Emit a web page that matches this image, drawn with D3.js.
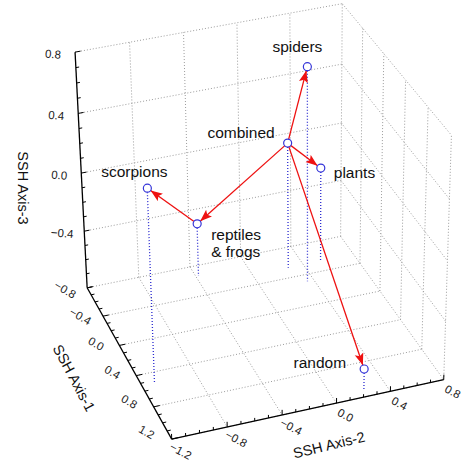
<!DOCTYPE html>
<html><head><meta charset="utf-8">
<script src="https://cdn.jsdelivr.net/npm/d3@7"></script>
<style>body{margin:0;background:#fff}svg{display:block}</style>
</head><body>
<svg id="chart" width="474" height="476"></svg>
<script>
// ---------------- DATA ----------------
const categories  = ["combined", "spiders", "plants", "scorpions", "reptiles & frogs", "random"];
const axis1Values = [-0.53, -0.31, -0.54, 0.54, -0.66, 1.13];
const axis2Values = [0.28, 0.35, 0.54, -1.11, -0.38, 0.23];
const axis3Values = [0.07, 0.66, -0.15, 0.50, -0.43, -0.65];
const arrowFrom = ["combined", "combined", "combined", "reptiles & frogs", "combined"];
const arrowTo   = ["spiders", "plants", "reptiles & frogs", "scorpions", "random"];
const axis1Ticks = [-0.8, -0.4, 0.0, 0.4, 0.8, 1.2];
const axis2Ticks = [-1.2, -0.8, -0.4, 0.0, 0.4, 0.8];
const axis3Ticks = [-0.8, -0.4, 0.0, 0.4, 0.8];
const axisTitles = ["SSH Axis-1", "SSH Axis-2", "SSH Axis-3"];

// ---------------- LAYOUT ----------------
// screen positions of box corners (normalized u,v,w) used to calibrate the perspective camera
const frameCalib = [
  [0,0,0, 86,288],[1,0,0, 172,439],[1,1,0, 441,380],[0,1,0, 344,236],
  [0,0,1, 76,52],[0,1,1, 339,4],[1,1,1, 454,135]
];
const labelLayout = {
  "combined": {dx:-13, dy:-5, anchor:"end"},
  "spiders": {dx:-10, dy:-15, anchor:"middle"},
  "plants": {dx:13, dy:10, anchor:"start"},
  "scorpions": {dx:-13, dy:-11, anchor:"middle"},
  "reptiles & frogs": {dx:14, dy:16, anchor:"start"},
  "random": {dx:-18, dy:-1, anchor:"end"}
};

function solve(A, b){
  const n=b.length, M=A.map((r,i)=>[...r,b[i]]);
  for(let c=0;c<n;c++){
    let p=c; for(let r=c+1;r<n;r++) if(Math.abs(M[r][c])>Math.abs(M[p][c])) p=r;
    [M[c],M[p]]=[M[p],M[c]];
    for(let r=0;r<n;r++){ if(r===c) continue; const f=M[r][c]/M[c][c]; for(let k=c;k<=n;k++) M[r][k]-=f*M[c][k]; }
  }
  return M.map((r,i)=>r[n]/r[i]);
}
function fitCamera(pts){
  const rows=[], rhs=[];
  pts.forEach(([X,Y,Z,x,y])=>{
    rows.push([X,Y,Z,1,0,0,0,0,-x*X,-x*Y,-x*Z]); rhs.push(x);
    rows.push([0,0,0,0,X,Y,Z,1,-y*X,-y*Y,-y*Z]); rhs.push(y);
  });
  const N=[], r=[];
  for(let i=0;i<11;i++){ N.push([]); r.push(0);
    for(let j=0;j<11;j++){ let s=0; rows.forEach(row=>s+=row[i]*row[j]); N[i].push(s); }
    rows.forEach((row,k)=>r[i]+=row[i]*rhs[k]);
  }
  return solve(N,r);
}
const P = fitCamera(frameCalib);
function proj(u,v,w){
  const d=P[8]*u+P[9]*v+P[10]*w+1;
  return [(P[0]*u+P[1]*v+P[2]*w+P[3])/d, (P[4]*u+P[5]*v+P[6]*w+P[7])/d];
}

const sU = d3.scaleLinear().domain([-0.8,1.2]).range([0,1]);
const sV = d3.scaleLinear().domain([-1.2,0.8]).range([0,1]);
const sW = d3.scaleLinear().domain([-0.8,0.8]).range([0,1]);
const pt = (a1,a2,a3)=>proj(sU(a1),sV(a2),sW(a3));

const svg = d3.select("#chart");
const font = "'Liberation Sans', Arial, sans-serif";
const gridColor = "#9c9c9c";

const gGrid = svg.append("g").attr("fill","none").attr("stroke",gridColor).attr("stroke-width",1).attr("stroke-dasharray","1,2");
function seg(g,a,b){ g.append("line").attr("x1",a[0]).attr("y1",a[1]).attr("x2",b[0]).attr("y2",b[1]); }

const a1Grid = axis1Ticks.slice(1), a2Grid = axis2Ticks.slice(1), a3Grid = axis3Ticks.slice(1);
// back wall (axis1 = min)
a2Grid.forEach(v=>seg(gGrid, pt(-0.8,v,-0.8), pt(-0.8,v,0.8)));
a3Grid.forEach(z=>seg(gGrid, pt(-0.8,-1.2,z), pt(-0.8,0.8,z)));
seg(gGrid, pt(-0.8,-1.2,-0.8), pt(-0.8,0.8,-0.8));
// floor
a1Grid.forEach(u=>seg(gGrid, pt(u,-1.2,-0.8), pt(u,0.8,-0.8)));
a2Grid.slice(0,-1).forEach(v=>seg(gGrid, pt(-0.8,v,-0.8), pt(1.2,v,-0.8)));
seg(gGrid, pt(-0.8,0.8,-0.8), pt(1.2,0.8,-0.8));
// right wall (axis2 = max)
a1Grid.forEach(u=>seg(gGrid, pt(u,0.8,-0.8), pt(u,0.8,0.8)));
a3Grid.forEach(z=>seg(gGrid, pt(-0.8,0.8,z), pt(1.2,0.8,z)));

// axes
const gAx = svg.append("g").attr("stroke","#000").attr("stroke-width",1.3).attr("fill","none");
seg(gAx, pt(-0.8,-1.2,-0.8), pt(-0.8,-1.2,0.8));
seg(gAx, pt(-0.8,-1.2,-0.8), pt(1.2,-1.2,-0.8));
seg(gAx, pt(1.2,-1.2,-0.8), pt(1.2,0.8,-0.8));
const gTk = svg.append("g").attr("stroke","#000").attr("stroke-width",1).attr("fill","none");
const minor = (lo,hi)=>d3.range(Math.round(lo*10), Math.round(hi*10)+1).map(d=>d/10);
const isMajor = t=>Math.abs(Math.round(t*10))%4===0;
minor(-0.8,0.8).forEach(z=>{ const len=isMajor(z)?0.02:0.012; seg(gTk, pt(-0.8,-1.2,z), pt(-0.8,-1.2+len*2,z)); });
minor(-0.8,1.2).forEach(u=>{ const len=isMajor(u)?0.022:0.013; seg(gTk, pt(u,-1.2,-0.8), pt(u,-1.2+len*2,-0.8)); });
minor(-1.2,0.8).forEach(v=>{ const len=isMajor(v)?0.022:0.013; seg(gTk, pt(1.2,v,-0.8), pt(1.2,v,-0.8+len*1.6)); });

// tick labels
const gTl = svg.append("g").attr("font-family",font).attr("font-size",11.5).attr("fill","#222").attr("text-anchor","middle").attr("dominant-baseline","central");
const fmt = d3.format(".1f");
axis3Ticks.slice(1).forEach(z=>{ const p=pt(-0.8,-1.2,z);
  gTl.append("text").attr("transform",`translate(${p[0]-22},${p[1]+2}) rotate(5)`).text(fmt(z)); });
axis1Ticks.forEach(u=>{ const p=pt(u,-1.2,-0.8), f=sU(u);
  gTl.append("text").attr("transform",`translate(${p[0]-22-3*f},${p[1]+2-9*f}) rotate(30)`).text(fmt(u)); });
axis2Ticks.forEach(v=>{ const p=pt(1.2,v,-0.8);
  gTl.append("text").attr("transform",`translate(${p[0]+9},${p[1]+12}) rotate(28)`).text(fmt(v)); });

// axis titles
const gT = svg.append("g").attr("font-family",font).attr("font-size",14.5).attr("fill","#111").attr("text-anchor","middle").attr("dominant-baseline","central");
gT.append("text").attr("transform","translate(23,188) rotate(90)").text(axisTitles[2]);
gT.append("text").attr("transform","translate(74,378) rotate(62)").text(axisTitles[0]);
gT.append("text").attr("transform","translate(329,445) rotate(-13.5)").text(axisTitles[1]);

// data points
const pts = categories.map((c,i)=>({name:c, a1:axis1Values[i], a2:axis2Values[i], a3:axis3Values[i]}));
pts.forEach(d=>{ d.p=pt(d.a1,d.a2,d.a3); d.f=pt(d.a1,d.a2,-0.8); });
const byName = Object.fromEntries(pts.map(d=>[d.name,d]));

svg.append("g").attr("stroke","#2a2ad0").attr("stroke-width",1.3).attr("stroke-dasharray","1,2").attr("fill","none")
  .selectAll("line").data(pts).join("line")
  .attr("x1",d=>d.p[0]).attr("y1",d=>d.p[1]+4).attr("x2",d=>d.f[0]).attr("y2",d=>d.f[1]);

svg.append("defs").append("marker").attr("id","arr").attr("markerUnits","userSpaceOnUse")
  .attr("markerWidth",14).attr("markerHeight",10).attr("refX",12).attr("refY",4.5).attr("orient","auto")
  .append("path").attr("d","M0,0 L12,4.5 L0,9 L2.5,4.5 Z").attr("fill","#ee1111");

const R = 4;
const edges = arrowFrom.map((f,i)=>({s:byName[f], t:byName[arrowTo[i]]}));
svg.append("g").attr("stroke","#ee1111").attr("stroke-width",1.3)
  .selectAll("line").data(edges).join("line")
  .attr("x1",e=>e.s.p[0]).attr("y1",e=>e.s.p[1])
  .attr("x2",e=>{const dx=e.t.p[0]-e.s.p[0], dy=e.t.p[1]-e.s.p[1], L=Math.hypot(dx,dy); return e.t.p[0]-dx/L*R;})
  .attr("y2",e=>{const dx=e.t.p[0]-e.s.p[0], dy=e.t.p[1]-e.s.p[1], L=Math.hypot(dx,dy); return e.t.p[1]-dy/L*R;})
  .attr("marker-end","url(#arr)");

svg.append("g").selectAll("circle").data(pts).join("circle")
  .attr("cx",d=>d.p[0]).attr("cy",d=>d.p[1]).attr("r",R)
  .attr("fill","#fff").attr("stroke","#3535d8").attr("stroke-width",1.2);

const gL = svg.append("g").attr("font-family",font).attr("font-size",15.5).attr("fill","#111");
pts.forEach(d=>{
  const L=labelLayout[d.name];
  const t=gL.append("text").attr("x",d.p[0]+L.dx).attr("y",d.p[1]+L.dy).attr("text-anchor",L.anchor);
  if(d.name==="reptiles & frogs"){
    t.append("tspan").attr("x",d.p[0]+L.dx).text("reptiles");
    t.append("tspan").attr("x",d.p[0]+L.dx).attr("dy",17).text("& frogs");
  } else t.text(d.name);
});
</script>
</body></html>
